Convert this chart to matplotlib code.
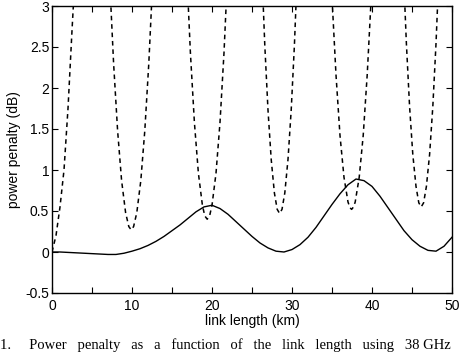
import numpy as np
import matplotlib
matplotlib.use("Agg")
from matplotlib import pyplot as plt
from matplotlib.ticker import MultipleLocator

# solid curve (read every 1 km)
solid_x = np.arange(0, 51, 1)
solid_y = [0.00, 0.00, -0.005, -0.01, -0.015, -0.02, -0.025, -0.03, -0.03, -0.015,
           0.01, 0.04, 0.08, 0.13, 0.19, 0.26, 0.33, 0.41, 0.49, 0.55,
           0.57, 0.53, 0.46, 0.37, 0.28, 0.19, 0.11, 0.05, 0.01, 0.00,
           0.03, 0.09, 0.18, 0.30, 0.44, 0.58, 0.71, 0.82, 0.89, 0.87,
           0.80, 0.68, 0.54, 0.40, 0.26, 0.15, 0.07, 0.02, 0.01, 0.07, 0.18]

# dashed curve (only the visible part, goes off the top between dips)
dash_x = [0, 0.5, 1.0, 1.5, 2.0, 2.5, 3.0,
          7.2, 7.7, 8.2, 8.7, 9.2, 9.6, 9.9, 10.2, 10.6, 11.1, 11.6, 12.1, 12.6,
          16.8, 17.3, 17.8, 18.3, 18.8, 19.1, 19.4, 19.7, 20.0, 20.5, 21.0, 21.5, 22.0,
          26.2, 26.6, 27.0, 27.4, 27.8, 28.15, 28.45, 28.75, 29.1, 29.5, 29.9, 30.3, 30.7,
          34.7, 35.0, 35.5, 36.0, 36.5, 37.0, 37.25, 37.45, 37.7, 37.9, 38.4, 38.9, 39.4, 39.9, 40.2,
          43.9, 44.3, 44.7, 45.1, 45.5, 45.85, 46.15, 46.45, 46.8, 47.2, 47.6, 48.0, 48.4, 50]
dash_y = [0, 0.2, 0.55, 1.0, 1.75, 2.7, 3.6,
          3.33, 2.30, 1.48, 0.87, 0.48, 0.31, 0.27, 0.31, 0.48, 0.87, 1.48, 2.30, 3.33,
          3.51, 2.43, 1.58, 0.96, 0.57, 0.44, 0.40, 0.44, 0.57, 0.96, 1.58, 2.43, 3.51,
          3.51, 2.52, 1.73, 1.13, 0.72, 0.52, 0.47, 0.52, 0.72, 1.13, 1.73, 2.52, 3.51,
          3.77, 3.10, 2.16, 1.42, 0.91, 0.61, 0.54, 0.52, 0.55, 0.61, 0.91, 1.42, 2.16, 3.10, 3.77,
          3.49, 2.54, 1.77, 1.19, 0.80, 0.60, 0.55, 0.60, 0.80, 1.19, 1.77, 2.54, 3.49, 4.5]

xticks = [0, 10, 20, 30, 40, 50]
yticks = [-0.5, 0, 0.5, 1, 1.5, 2, 2.5, 3]
ytick_labels = ["-0.5", "0", "0.5", "1", "1.5", "2", "2.5", "3"]
caption = "1.     Power   penalty   as   a   function   of   the   link   length   using   38 GHz"

plt.rcParams['font.family'] = ['Liberation Sans', 'DejaVu Sans']

fig = plt.figure(figsize=(4.74, 3.53), dpi=100)
ax = fig.add_axes([52/474, 60/353, 400/474, 287/353])

ax.plot(solid_x, solid_y, color='black', lw=1.0)
ax.plot(dash_x, dash_y, color='black', lw=1.1, linestyle=(0, (3.0, 2.5)))

ax.set_xlim(0, 50)
ax.set_ylim(-0.5, 3)
ax.set_xticks(xticks)
ax.xaxis.set_minor_locator(MultipleLocator(5))
ax.set_yticks(yticks)
ax.set_yticklabels(ytick_labels)
ax.tick_params(which='both', direction='in', top=True, right=True, labelsize=10,
               length=4, width=0.8, pad=2)
ax.tick_params(axis='x', pad=4)
for s in ax.spines.values():
    s.set_linewidth(1.0)

ax.set_xlabel('link length (km)', fontsize=10, labelpad=1)
ax.set_ylabel('power penalty (dB)', fontsize=10, labelpad=3)

# caption line under the plot
fig.text(0.0, 4/353, caption,
         family=['Liberation Serif', 'DejaVu Serif'], fontsize=10.5, va='baseline', ha='left')

fig.savefig('out.png', dpi=100)
